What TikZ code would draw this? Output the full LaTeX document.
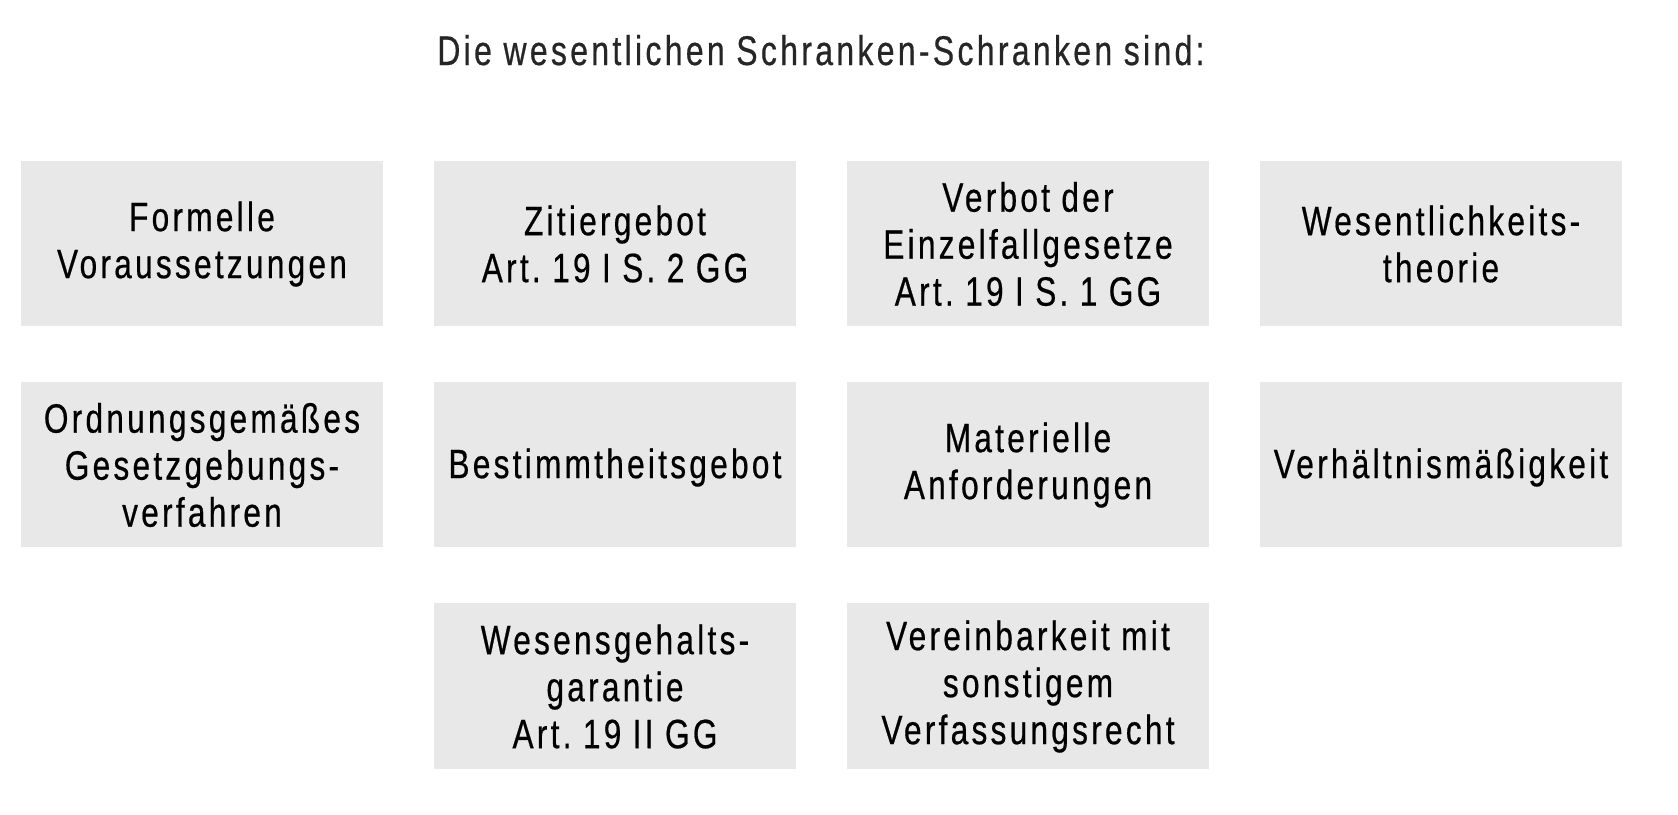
\documentclass[tikz,border=0pt]{standalone}
\usepackage{fontspec}
\setmainfont{Liberation Sans}[FakeStretch=0.77, LetterSpace=8, WordSpace=0.95, FakeBold=0.5]
\frenchspacing
\definecolor{boxgray}{HTML}{E8E8E8}
\definecolor{titlegray}{HTML}{262626}
\tikzset{
  schranke/.style={fill=boxgray, draw=none, inner sep=0pt, minimum width=362pt, minimum height=165pt},
  schranketext/.style={inner sep=0pt, align=center, text=black, font=\fontsize{41}{47}\selectfont},
  titel/.style={inner sep=0pt, text=titlegray, font=\fontsize{41.5}{47}\selectfont}
}
\begin{document}
\begin{tikzpicture}[x=1pt,y=-1pt]
\useasboundingbox[fill=white] (0,0) rectangle (1678,814);
\node[titel, anchor=base] (title) at (821,65) {Die wesentlichen Schranken-Schranken sind:};
% row 1
\node[schranke] (formell) at (202,243.5) {};
\node[schranke] (zitier) at (615,243.5) {};
\node[schranke] (einzel) at (1028,243.5) {};
\node[schranke] (wesentl) at (1441,243.5) {};
% row 2
\node[schranke] (verfahren) at (202,464.5) {};
\node[schranke] (bestimmt) at (615,464.5) {};
\node[schranke] (materiell) at (1028,464.5) {};
\node[schranke] (verhaelt) at (1441,464.5) {};
% row 3
\node[schranke, minimum height=166pt] (wesensgehalt) at (615,686) {};
\node[schranke, minimum height=166pt] (vereinbar) at (1028,686) {};
% texts
\node[schranketext] (formell-t) at ([yshift=-0.5pt]formell.center) {Formelle\\Voraussetzungen};
\node[schranketext] (zitier-t) at ([yshift=-0.5pt]zitier.center) {Zitiergebot\\Art. 19 I S. 2 GG};
\node[schranketext] (einzel-t) at ([yshift=-0.5pt]einzel.center) {Verbot der\\Einzelfallgesetze\\Art. 19 I S. 1 GG};
\node[schranketext] (wesentl-t) at ([yshift=-0.5pt]wesentl.center) {Wesentlichkeits-\\theorie};
\node[schranketext] (verfahren-t) at ([yshift=-0.5pt]verfahren.center) {Ordnungsgemäßes\\Gesetzgebungs-\\verfahren};
\node[schranketext] (bestimmt-t) at ([yshift=-3pt]bestimmt.center) {Bestimmtheitsgebot};
\node[schranketext] (materiell-t) at ([yshift=-0.5pt]materiell.center) {Materielle\\Anforderungen};
\node[schranketext] (verhaelt-t) at ([yshift=-3pt]verhaelt.center) {Verhältnismäßigkeit};
\node[schranketext] (wesensgehalt-t) at ([yshift=-0.5pt]wesensgehalt.center) {Wesensgehalts-\\garantie\\Art. 19 II GG};
\node[schranketext] (vereinbar-t) at ([yshift=-0.5pt]vereinbar.center) {Vereinbarkeit mit\\sonstigem\\Verfassungsrecht};
\end{tikzpicture}
\end{document}
